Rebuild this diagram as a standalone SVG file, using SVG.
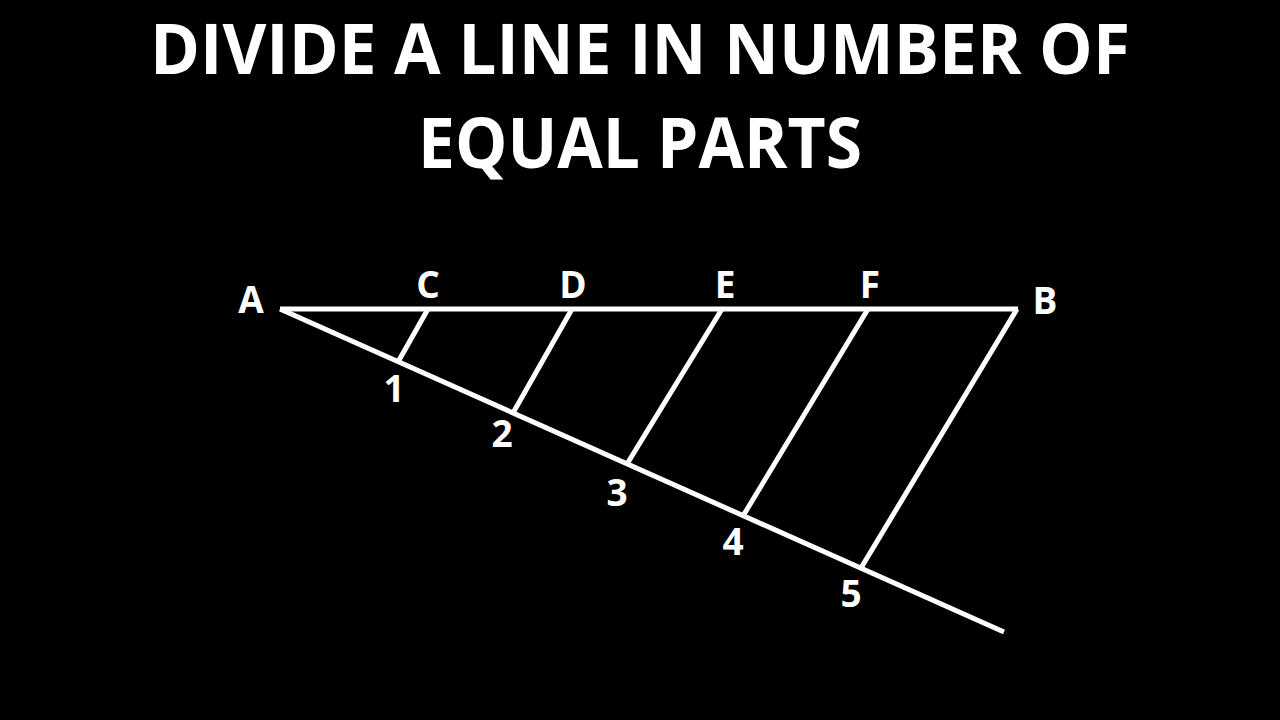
<svg xmlns="http://www.w3.org/2000/svg" width="1280" height="720" viewBox="0 0 1280 720">
<style>
.t{font-family:"Open Sans","Liberation Sans",sans-serif;font-weight:bold;fill:#fff;text-anchor:middle}
.title{font-size:70px}
.lbl{font-size:37px}
.ln{stroke:#fff;stroke-width:5;stroke-linecap:butt;fill:none}
</style>
<rect width="1280" height="720" fill="#000"/>
<g id="title">
<text class="t title" x="640" y="74" textLength="980" lengthAdjust="spacingAndGlyphs">DIVIDE A LINE IN NUMBER OF</text>
<text class="t title" x="640" y="168" textLength="444" lengthAdjust="spacingAndGlyphs">EQUAL PARTS</text>
</g>
<g id="connectors">
<line class="ln" x1="280" y1="309" x2="1018" y2="309"/>
<line class="ln" x1="280" y1="309" x2="1004" y2="632"/>
<line class="ln" x1="398" y1="362" x2="428" y2="309"/>
<line class="ln" x1="513" y1="413" x2="572" y2="309"/>
<line class="ln" x1="627" y1="464" x2="722" y2="309"/>
<line class="ln" x1="743" y1="516" x2="868" y2="309"/>
<line class="ln" x1="861" y1="568" x2="1017" y2="309"/>
</g>
<g id="node-A"><text class="t lbl" x="251" y="313">A</text></g>
<g id="node-C"><text class="t lbl" x="428" y="298">C</text></g>
<g id="node-D"><text class="t lbl" x="573" y="298">D</text></g>
<g id="node-E"><text class="t lbl" x="725" y="298">E</text></g>
<g id="node-F"><text class="t lbl" x="870" y="298">F</text></g>
<g id="node-B"><text class="t lbl" x="1045" y="314">B</text></g>
<g id="node-1"><text class="t lbl" x="394" y="402">1</text></g>
<g id="node-2"><text class="t lbl" x="502" y="447">2</text></g>
<g id="node-3"><text class="t lbl" x="617" y="506">3</text></g>
<g id="node-4"><text class="t lbl" x="733" y="555">4</text></g>
<g id="node-5"><text class="t lbl" x="851" y="607">5</text></g>
</svg>
